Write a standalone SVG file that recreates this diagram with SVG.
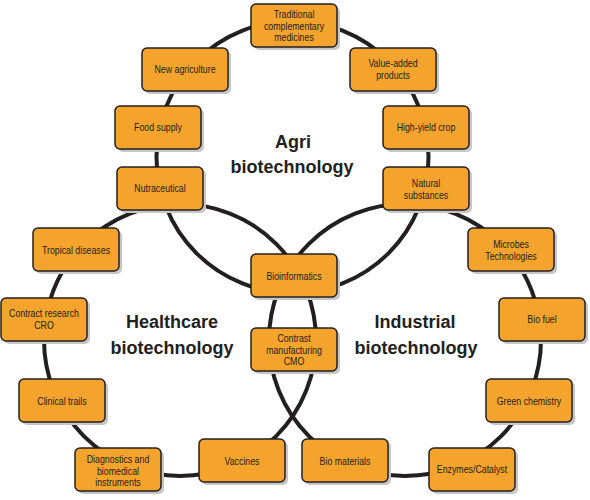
<svg xmlns="http://www.w3.org/2000/svg" width="590" height="500" viewBox="0 0 590 500">
<defs>
<style>
.ring{fill:none;stroke:#231f20;stroke-width:4}
.sh{fill:#c6c6c6}
.bx{fill:#f4a32c;stroke:#231f20;stroke-width:1.5}
.t{font-family:"Liberation Sans","DejaVu Sans",sans-serif;font-size:11px;fill:#231f20;text-anchor:middle}
.h{font-family:"Liberation Sans","DejaVu Sans",sans-serif;font-size:18px;font-weight:bold;fill:#231f20;text-anchor:middle}
</style>
<symbol id="box" overflow="visible">
<rect class="sh" x="3" y="3" width="86" height="43" rx="5"/>
<rect class="bx" x="0" y="0" width="86" height="43" rx="5"/>
</symbol>
</defs>
<rect width="590" height="500" fill="#ffffff"/>
<g id="connectors">
<circle class="ring" cx="292.5" cy="157" r="136"/>
<circle class="ring" cx="180" cy="340" r="136"/>
<circle class="ring" cx="405" cy="340" r="136"/>
</g>
<g id="titles">
<text class="h" x="293" y="148">Agri</text>
<text class="h" x="292" y="173">biotechnology</text>
<text class="h" x="172" y="328">Healthcare</text>
<text class="h" x="172" y="354">biotechnology</text>
<text class="h" x="415" y="328">Industrial</text>
<text class="h" x="416" y="354">biotechnology</text>
</g>
<g id="n-traditional"><use href="#box" x="251" y="4"/><text class="t" transform="translate(294,18) scale(.8,1)">Traditional</text><text class="t" transform="translate(294,29.5) scale(.8,1)">complementary</text><text class="t" transform="translate(294,41) scale(.8,1)">medicines</text></g>
<g id="n-newagri"><use href="#box" x="142" y="48"/><text class="t" transform="translate(185,73) scale(.8,1)">New agriculture</text></g>
<g id="n-valueadded"><use href="#box" x="350" y="48"/><text class="t" transform="translate(393,67) scale(.8,1)">Value-added</text><text class="t" transform="translate(393,79) scale(.8,1)">products</text></g>
<g id="n-food"><use href="#box" x="115" y="106"/><text class="t" transform="translate(158,131) scale(.8,1)">Food supply</text></g>
<g id="n-highyield"><use href="#box" x="383" y="106"/><text class="t" transform="translate(426,131) scale(.8,1)">High-yield crop</text></g>
<g id="n-nutra"><use href="#box" x="117" y="167"/><text class="t" transform="translate(160,192) scale(.8,1)">Nutraceutical</text></g>
<g id="n-natural"><use href="#box" x="383" y="167"/><text class="t" transform="translate(426,186.5) scale(.8,1)">Natural</text><text class="t" transform="translate(426,198.5) scale(.8,1)">substances</text></g>
<g id="n-tropical"><use href="#box" x="33" y="228"/><text class="t" transform="translate(76,254) scale(.8,1)">Tropical diseases</text></g>
<g id="n-microbes"><use href="#box" x="468" y="228"/><text class="t" transform="translate(511,247.5) scale(.8,1)">Microbes</text><text class="t" transform="translate(511,259.5) scale(.8,1)">Technologies</text></g>
<g id="n-bioinf"><use href="#box" x="251" y="254"/><text class="t" transform="translate(294,280) scale(.8,1)">Bioinformatics</text></g>
<g id="n-cro"><use href="#box" x="1" y="298"/><text class="t" transform="translate(44,317) scale(.8,1)">Contract research</text><text class="t" transform="translate(44,329) scale(.8,1)">CRO</text></g>
<g id="n-biofuel"><use href="#box" x="499" y="298"/><text class="t" transform="translate(542,323) scale(.8,1)">Bio fuel</text></g>
<g id="n-cmo"><use href="#box" x="251" y="328"/><text class="t" transform="translate(294,342) scale(.8,1)">Contrast</text><text class="t" transform="translate(294,353.5) scale(.8,1)">manufacturing</text><text class="t" transform="translate(294,365) scale(.8,1)">CMO</text></g>
<g id="n-clinical"><use href="#box" x="19" y="379"/><text class="t" transform="translate(62,405) scale(.8,1)">Clinical trails</text></g>
<g id="n-green"><use href="#box" x="486" y="379"/><text class="t" transform="translate(529,405) scale(.8,1)">Green chemistry</text></g>
<g id="n-vaccines"><use href="#box" x="199" y="439"/><text class="t" transform="translate(242,465) scale(.8,1)">Vaccines</text></g>
<g id="n-biomat"><use href="#box" x="302" y="439"/><text class="t" transform="translate(345,465) scale(.8,1)">Bio materials</text></g>
<g id="n-diag"><use href="#box" x="75" y="448"/><text class="t" transform="translate(118,463) scale(.8,1)">Diagnostics and</text><text class="t" transform="translate(118,474.5) scale(.8,1)">biomedical</text><text class="t" transform="translate(118,486) scale(.8,1)">instruments</text></g>
<g id="n-enzymes"><use href="#box" x="429" y="448"/><text class="t" transform="translate(472,473) scale(.8,1)">Enzymes/Catalyst</text></g>
</svg>
